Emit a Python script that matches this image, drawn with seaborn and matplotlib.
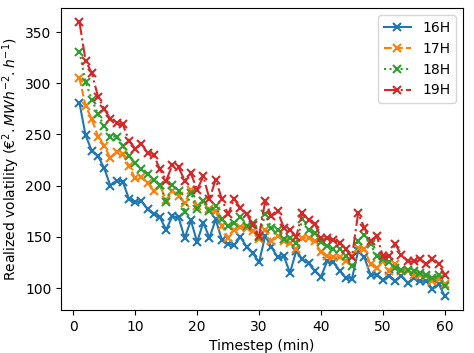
import numpy as np
import pandas as pd
import matplotlib
matplotlib.use("Agg")
import matplotlib.pyplot as plt
import seaborn as sns

timesteps = list(range(1, 61))

vol_16h = [281, 249, 234, 229, 217, 200, 205, 204, 187, 184,
           185, 177, 172, 169, 157, 170, 169, 149, 166, 145,
           164, 149, 167, 147, 143, 142, 150, 140, 134, 125,
           151, 140, 130, 131, 115, 136, 128, 124, 117, 111,
           126, 125, 117, 110, 109, 136, 130, 113, 113, 108,
           112, 107, 112, 105, 110, 107, 107, 99, 104, 92]
vol_17h = [305, 278, 265, 248, 239, 227, 233, 231, 219, 207,
           208, 203, 195, 200, 186, 195, 190, 183, 196, 180,
           185, 177, 175, 161, 149, 157, 160, 159, 156, 148,
           157, 146, 151, 146, 144, 138, 149, 149, 146, 135,
           131, 130, 130, 126, 131, 139, 138, 123, 120, 126,
           117, 123, 117, 117, 113, 113, 112, 107, 109, 104]
vol_18h = [331, 301, 284, 270, 258, 248, 248, 239, 229, 222,
           216, 211, 206, 201, 184, 201, 195, 174, 193, 177,
           185, 175, 180, 167, 161, 164, 169, 161, 164, 150,
           172, 159, 157, 148, 149, 144, 167, 157, 154, 145,
           141, 138, 138, 131, 122, 146, 152, 143, 131, 128,
           125, 120, 118, 118, 117, 115, 113, 110, 113, 102]
vol_19h = [360, 322, 310, 287, 275, 265, 261, 260, 244, 236,
           241, 232, 230, 216, 205, 220, 218, 205, 212, 196,
           209, 187, 206, 187, 172, 187, 178, 172, 162, 151,
           185, 170, 175, 159, 157, 150, 173, 166, 163, 149,
           149, 147, 144, 138, 130, 173, 159, 146, 151, 131,
           131, 143, 132, 126, 126, 128, 123, 128, 123, 113]

hours = ["16H", "17H", "18H", "19H"]
series = [vol_16h, vol_17h, vol_18h, vol_19h]
styles = ["-", "--", ":", "-."]
colors = sns.color_palette("tab10", 4)

fig, ax = plt.subplots(figsize=(4.74, 3.53), dpi=100)
fig.subplots_adjust(left=0.129, right=0.977, top=0.977, bottom=0.122)

for h, vals, ls, c in zip(hours, series, styles, colors):
    sns.lineplot(x=timesteps, y=vals, ax=ax, color=c, label=h,
                 linestyle=ls, linewidth=1.5, marker="x", markersize=6,
                 markeredgewidth=1.5, markeredgecolor=c, dashes=False)

ax.set_xlabel("Timestep (min)")
ax.set_ylabel(r"Realized volatility ($€^2.MWh^{-2}.h^{-1}$)", labelpad=2)
ax.set_yticks([100, 150, 200, 250, 300, 350])
ax.set_xticks([0, 10, 20, 30, 40, 50, 60])
ax.legend(loc="upper right")

fig.savefig("out.png", dpi=100)
